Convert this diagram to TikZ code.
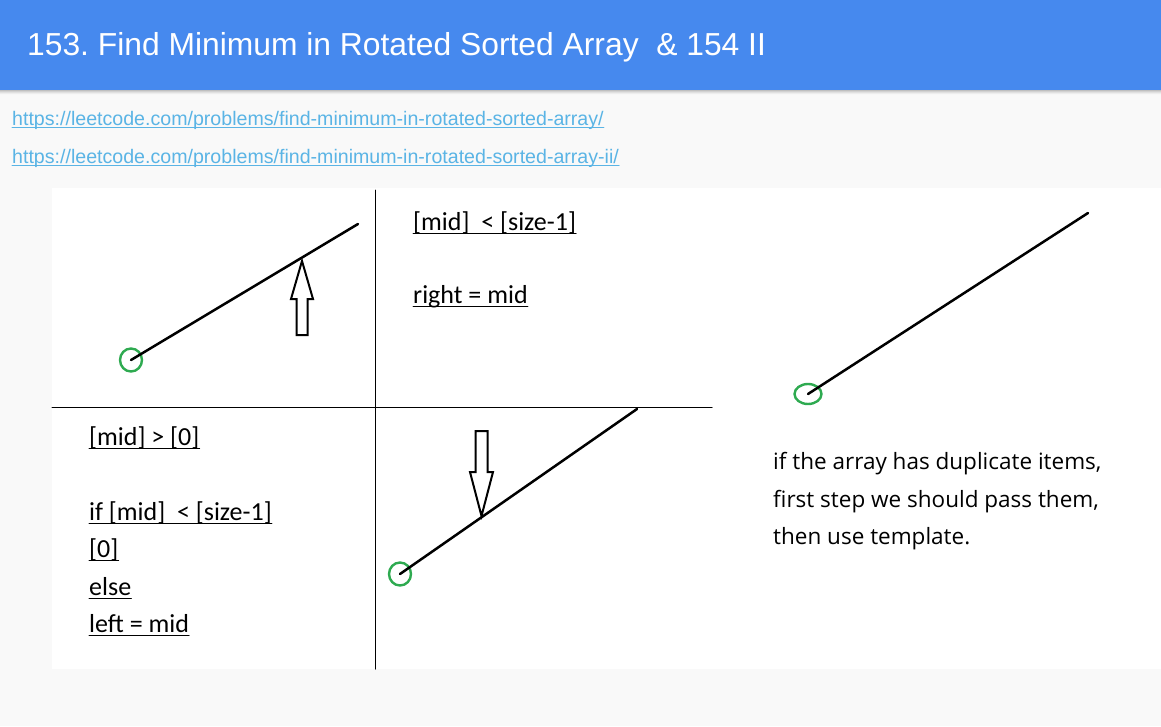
\documentclass[tikz,border=0pt]{standalone}
\usepackage{fontspec}
\setmainfont{Liberation Sans}
\newfontfamily\notefont{Carlito}
\newfontfamily\remarkfont{Open Sans}
\usetikzlibrary{shapes.geometric}
\definecolor{headblue}{HTML}{4689EE}
\definecolor{linkblue}{HTML}{5AB4E5}
\definecolor{pagegray}{HTML}{F9F9F9}
\definecolor{ringgreen}{HTML}{2EAA50}
\frenchspacing

\begin{document}
\begin{tikzpicture}[line cap=round,line join=round,x=1pt,y=-1pt,
    lbl/.style={anchor=base west,inner sep=0pt,font=\notefont\fontsize{26}{30}\selectfont},
    remark/.style={anchor=base west,inner sep=0pt,font=\remarkfont\fontsize{22.5}{27}\selectfont},
    weblink/.style={anchor=base west,inner sep=0pt,text=linkblue,font=\fontsize{19.6}{23}\selectfont},
    ring/.style={ellipse,draw=ringgreen,line width=2.4pt,inner sep=0pt},
    slope/.style={line width=2.5pt},
    hollow/.style={draw=black,fill=white,line width=2pt,line join=miter}]
  \useasboundingbox (0,0) rectangle (1161,726);
  % page, header and white panel
  \fill[pagegray] (0,0) rectangle (1161,726);
  \foreach \s/\c in {0/25,1/18,2/12,3/7,4/3}
    \fill[black!\c] (0,90+\s) rectangle (1161,91+\s);
  \fill[headblue] (0,0) rectangle (1161,90);
  \node[anchor=base west,inner sep=0pt,text=white,font=\fontsize{31.8}{38}\selectfont] (title) at (27,55)
    {153. Find Minimum in Rotated Sorted Array~ \& 154 II};
  \node[weblink] (web1) at (12,125) {https://leetcode.com/problems/find-minimum-in-rotated-sorted-array/};
  \node[weblink] (web2) at (12,163) {https://leetcode.com/problems/find-minimum-in-rotated-sorted-array-ii/};
  \foreach \n in {web1,web2}
    \draw[linkblue,line width=1pt] ([yshift=-2pt]\n.base west) -- ([yshift=-2pt]\n.base east);
  \fill[white] (52,188) rectangle (1161,669);

  % quadrants
  \coordinate (vtop) at (375,190);
  \coordinate (vbot) at (375,669);
  \coordinate (hleft) at (52,407);
  \coordinate (hright) at (712,407);
  \draw[line width=1pt] (vtop) -- (vbot);
  \draw[line width=1pt] (hleft) -- (hright);

  % top left: rising line, arrow up
  \node[ring,minimum width=22pt,minimum height=23pt] (low1) at (131,360) {};
  \coordinate (high1) at (358,224);
  \draw[slope] (low1.center) -- (high1);
  \draw[hollow] (302,261) -- (313,299) -- (307.5,299) -- (307.5,335) -- (296.5,335) -- (296.5,299) -- (291,299) -- cycle;

  % top right text
  \node[lbl] (cond1) at (413,230) {[mid]\ \ <\ [size-1]};
  \node[lbl] (act1) at (413,303) {right = mid};

  % bottom left text
  \node[lbl] (cond2) at (89,445) {[mid]\ >\ [0]};
  \node[lbl] (cond3) at (89,520) {if [mid]\ \ <\ [size-1]};
  \node[lbl] (val) at (89,557) {[0]};
  \node[lbl] (other) at (89,595) {else};
  \node[lbl] (act2) at (89,632) {left = mid};
  \foreach \n in {cond1,act1,cond2,cond3,val,other,act2}
    \draw[line width=1pt] ([yshift=-3pt]\n.base west) -- ([yshift=-3pt]\n.base east);

  % bottom right: rising line, arrow down
  \node[ring,minimum width=22pt,minimum height=23pt] (low2) at (400,574) {};
  \coordinate (high2) at (637,409);
  \draw[slope] (low2.center) -- (high2);
  \draw[hollow] (481.5,516) -- (493,472) -- (487.5,472) -- (487.5,431) -- (475.5,431) -- (475.5,472) -- (470,472) -- cycle;

  % right: duplicates
  \node[ring,minimum width=27pt,minimum height=20pt] (low3) at (808,394) {};
  \coordinate (high3) at (1088,213);
  \draw[slope] (low3.center) -- (high3);
  \node[remark] (dup1) at (773,469) {if the array has duplicate items,};
  \node[remark] (dup2) at (773,507) {first step we should pass them,};
  \node[remark] (dup3) at (773,544) {then use template.};
\end{tikzpicture}
\end{document}
